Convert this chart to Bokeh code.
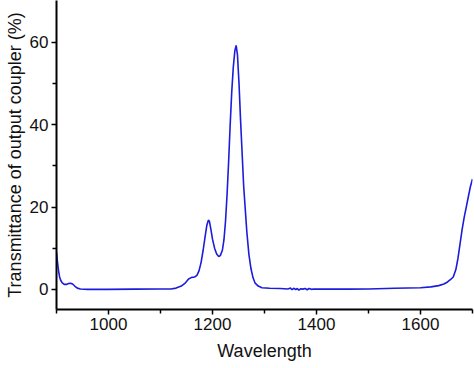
from bokeh.plotting import figure
from bokeh.models import FixedTicker, Range1d
from bokeh.embed import file_html
from bokeh.resources import INLINE

wavelength = [900, 902, 904, 906, 908, 911, 915, 919, 923, 927, 931, 935, 940, 946, 960,
              1000, 1050, 1100, 1120, 1130, 1140, 1148, 1154, 1160, 1166, 1170, 1174, 1178,
              1182, 1186, 1189, 1192, 1194, 1197, 1200, 1204, 1208, 1212, 1215, 1219, 1222,
              1225, 1228, 1231, 1234, 1237, 1240, 1243, 1245.5, 1248, 1251, 1254, 1257, 1260,
              1263, 1266, 1270, 1274, 1278, 1282, 1288, 1295, 1310, 1330, 1345, 1350, 1353,
              1356, 1360, 1363, 1366, 1370, 1374, 1378, 1382, 1386, 1390, 1395, 1420, 1460,
              1500, 1550, 1600, 1620, 1635, 1645, 1652, 1658, 1663, 1668, 1672, 1676, 1680,
              1684, 1688, 1692, 1696, 1700]
transmittance = [9.0, 6.5, 4.5, 3.0, 2.2, 1.6, 1.2, 1.2, 1.4, 1.5, 1.3, 0.8, 0.3, 0.1, 0.0,
                 0.0, 0.05, 0.1, 0.1, 0.3, 0.8, 1.6, 2.5, 2.9, 3.0, 3.4, 4.5, 6.5,
                 9.5, 13.0, 15.5, 16.8, 16.6, 14.5, 12.2, 10.0, 8.6, 8.0, 8.2, 9.5, 12.0,
                 16.5, 23.0, 31.0, 40.0, 48.0, 54.0, 58.0, 59.3, 57.0, 50.0, 41.0, 33.0, 25.0,
                 19.5, 14.0, 8.5, 5.0, 2.8, 1.5, 0.8, 0.4, 0.25, 0.2, 0.1, 0.3, -0.1,
                 0.25, -0.05, 0.2, -0.2, 0.15, 0.05, 0.2, -0.1, 0.2, 0.0, 0.1, 0.05, 0.05,
                 0.1, 0.25, 0.4, 0.6, 0.9, 1.3, 1.8, 2.4, 3.0, 4.8, 7.5, 11.0, 14.5,
                 17.5, 20.0, 22.5, 25.0, 26.8]

x_major = [1000, 1200, 1400, 1600]
x_minor = [900, 1100, 1300, 1500, 1700]
y_major = [0, 20, 40, 60]
y_minor = [10, 30, 50]

p = figure(width=474, height=368, output_backend="svg", toolbar_location=None,
           x_range=Range1d(900, 1700), y_range=Range1d(-4.9, 70.2),
           min_border_left=56, min_border_right=2, min_border_top=0, min_border_bottom=59)
p.outline_line_color = None
p.grid.visible = False
p.background_fill_color = "white"

p.line(wavelength, transmittance, line_color="#1c1cdc", line_width=1.6)

p.xaxis.ticker = FixedTicker(ticks=x_major, minor_ticks=x_minor)
p.yaxis.ticker = FixedTicker(ticks=y_major, minor_ticks=y_minor)
p.xaxis.axis_label = "Wavelength"
p.yaxis.axis_label = "Transmittance of output coupler (%)"

for ax in (p.xaxis, p.yaxis):
    ax.axis_line_width = 2
    ax.axis_line_color = "black"
    ax.major_tick_line_width = 1.5
    ax.minor_tick_line_width = 1.5
    ax.major_tick_line_color = "black"
    ax.minor_tick_line_color = "black"
    ax.major_tick_in = 0
    ax.major_tick_out = 5
    ax.minor_tick_in = 0
    ax.minor_tick_out = 4
    ax.major_label_text_font = "Liberation Sans"
    ax.major_label_text_font_size = "17px"
    ax.major_label_text_color = "#111111"
    ax.axis_label_text_font = "Liberation Sans"
    ax.axis_label_text_font_size = "18px"
    ax.axis_label_text_font_style = "normal"
    ax.axis_label_text_color = "#111111"
    ax.major_label_standoff = 3

p.xaxis.axis_label_standoff = 8
p.yaxis.axis_label_standoff = 2

open("out.html", "w").write(file_html(p, INLINE))
